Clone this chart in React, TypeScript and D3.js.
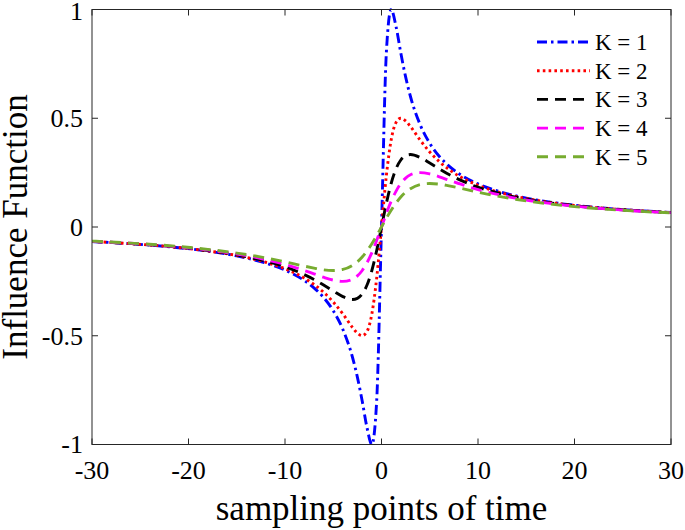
import React from 'react';
import * as d3 from 'd3';

// sample positions along the time axis
const times = [
  -30, -26, -22, -18, -15, -12, -10, -8, -7, -6, -5, -4, -3, -2.5, -2, -1.5, -1, -0.5,
  0, 0.5, 1, 1.5, 2, 2.5, 3, 4, 5, 6, 7, 8, 10, 12, 15, 18, 22, 26, 30,
];

const k1 = [
  -0.067, -0.077, -0.091, -0.111, -0.133, -0.166, -0.198, -0.246, -0.28, -0.324, -0.385, -0.471, -0.6, -0.69, -0.8, -0.923, -1, -0.8,
  0, 0.8, 1, 0.923, 0.8, 0.69, 0.6, 0.471, 0.385, 0.324, 0.28, 0.246, 0.198, 0.166, 0.133, 0.111, 0.091, 0.077, 0.067,
];
const k2 = [
  -0.066, -0.077, -0.09, -0.11, -0.131, -0.162, -0.192, -0.235, -0.264, -0.3, -0.345, -0.4, -0.462, -0.488, -0.5, -0.48, -0.4, -0.235,
  0, 0.235, 0.4, 0.48, 0.5, 0.488, 0.462, 0.4, 0.345, 0.3, 0.264, 0.235, 0.192, 0.162, 0.131, 0.11, 0.09, 0.077, 0.066,
];
const k3 = [
  -0.066, -0.076, -0.089, -0.108, -0.128, -0.157, -0.183, -0.219, -0.241, -0.267, -0.294, -0.32, -0.333, -0.328, -0.308, -0.267, -0.2, -0.108,
  0, 0.108, 0.2, 0.267, 0.308, 0.328, 0.333, 0.32, 0.294, 0.267, 0.241, 0.219, 0.183, 0.157, 0.128, 0.108, 0.089, 0.076, 0.066,
];
const k4 = [
  -0.066, -0.075, -0.088, -0.106, -0.124, -0.15, -0.172, -0.2, -0.215, -0.231, -0.244, -0.25, -0.24, -0.225, -0.2, -0.164, -0.118, -0.062,
  0, 0.062, 0.118, 0.164, 0.2, 0.225, 0.24, 0.25, 0.244, 0.231, 0.215, 0.2, 0.172, 0.15, 0.124, 0.106, 0.088, 0.075, 0.066,
];
const k5 = [
  -0.065, -0.074, -0.086, -0.103, -0.12, -0.142, -0.16, -0.18, -0.189, -0.197, -0.2, -0.195, -0.176, -0.16, -0.138, -0.11, -0.077, -0.04,
  0, 0.04, 0.077, 0.11, 0.138, 0.16, 0.176, 0.195, 0.2, 0.197, 0.189, 0.18, 0.16, 0.142, 0.12, 0.103, 0.086, 0.074, 0.065,
];

const seriesLabels = ['K = 1', 'K = 2', 'K = 3', 'K = 4', 'K = 5'];
const seriesValues = [k1, k2, k3, k4, k5];
const seriesColors = ['#0000ff', '#ff0000', '#000000', '#ff00ff', '#77ac30'];
const seriesDash = ['10,4,2.5,4', '2.6,3.2', '11,7', '11,7', '11,7'];

const xTicks = [-30, -20, -10, 0, 10, 20, 30];
const yTicks = [-1, -0.5, 0, 0.5, 1];

const W = 685;
const H = 530;
const plot = { left: 92, right: 671, top: 9.5, bottom: 444.5 };
const font = '"Liberation Serif", "Times New Roman", serif';

export default function App() {
  const x = d3.scaleLinear().domain([-30, 30]).range([plot.left, plot.right]);
  const y = d3.scaleLinear().domain([-1, 1]).range([plot.bottom, plot.top]);

  const line = d3
    .line<number>()
    .x((_, i) => x(times[i]))
    .y((d) => y(d))
    .curve(d3.curveMonotoneX);

  const axisColor = '#262626';
  const tickLen = 6;
  const lw = 2.9;

  return (
    <svg width={W} height={H} style={{ position: 'absolute', left: 0, top: 0, background: '#fff' }}>
      <defs>
        <clipPath id="plotArea">
          <rect x={plot.left} y={plot.top - 2} width={plot.right - plot.left} height={plot.bottom - plot.top + 4} />
        </clipPath>
      </defs>

      {/* curves */}
      <g clipPath="url(#plotArea)">
        {seriesValues.map((vals, i) => (
          <path
            key={seriesLabels[i]}
            d={line(vals) || ''}
            fill="none"
            stroke={seriesColors[i]}
            strokeWidth={lw}
            strokeDasharray={seriesDash[i]}
          />
        ))}
      </g>

      {/* box with inward ticks */}
      <rect
        x={plot.left}
        y={plot.top}
        width={plot.right - plot.left}
        height={plot.bottom - plot.top}
        fill="none"
        stroke={axisColor}
        strokeWidth={1}
      />
      {xTicks.map((t) => (
        <g key={'xt' + t}>
          <line x1={x(t)} x2={x(t)} y1={plot.bottom} y2={plot.bottom - tickLen} stroke={axisColor} />
          <line x1={x(t)} x2={x(t)} y1={plot.top} y2={plot.top + tickLen} stroke={axisColor} />
          <text x={x(t)} y={479} textAnchor="middle" fontFamily={font} fontSize={26} fill="#000">
            {t}
          </text>
        </g>
      ))}
      {yTicks.map((t) => (
        <g key={'yt' + t}>
          <line x1={plot.left} x2={plot.left + tickLen} y1={y(t)} y2={y(t)} stroke={axisColor} />
          <line x1={plot.right} x2={plot.right - tickLen} y1={y(t)} y2={y(t)} stroke={axisColor} />
          <text x={83} y={Math.max(y(t), 11)} dy="0.34em" textAnchor="end" fontFamily={font} fontSize={26} fill="#000">
            {t}
          </text>
        </g>
      ))}

      {/* axis titles */}
      <text x={(plot.left + plot.right) / 2} y={520} textAnchor="middle" fontFamily={font} fontSize={35} fill="#000">
        sampling points of time
      </text>
      <text
        transform={`translate(27, ${(plot.top + plot.bottom) / 2}) rotate(-90)`}
        textAnchor="middle"
        fontFamily={font}
        fontSize={35}
        fill="#000"
      >
        Influence Function
      </text>

      {/* legend */}
      <g>
        {seriesLabels.map((lab, i) => {
          const ly = 42 + i * 28.7;
          return (
            <g key={'lg' + lab}>
              <line
                x1={537}
                x2={590}
                y1={ly}
                y2={ly}
                stroke={seriesColors[i]}
                strokeWidth={lw}
                strokeDasharray={seriesDash[i]}
              />
              <text x={595} y={ly} dy="0.34em" fontFamily={font} fontSize={23} fill="#000">
                {lab}
              </text>
            </g>
          );
        })}
      </g>
    </svg>
  );
}
